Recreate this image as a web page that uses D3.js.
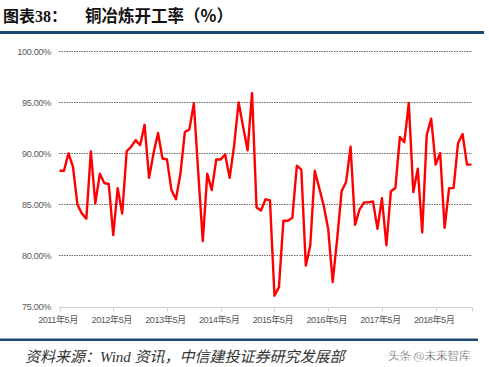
<!DOCTYPE html>
<html>
<head>
<meta charset="utf-8">
<script src="https://cdn.jsdelivr.net/npm/d3@7"></script>
<style>
  html, body { margin: 0; padding: 0; background: #fff; }
  svg { display: block; }
</style>
</head>
<body>
<svg id="chart" width="489" height="367"></svg>
<script>
// monthly copper smelter utilisation, 2011-05 .. 2019-01
const startMonth = new Date(2011, 4, 1);
const rates = [
  88.3, 88.3, 90.0, 88.7, 85.0, 84.1, 83.6, 90.2, 85.1, 88.0, 87.1, 87.0,
  82.0, 86.6, 84.1, 90.2, 90.65, 91.3, 90.8, 92.8, 87.6, 90.0, 92.0, 89.5,
  89.4, 86.4, 85.5, 88.0, 92.1, 92.35, 94.9, 88.0, 81.4, 88.0, 86.4, 89.4,
  89.4, 89.9, 87.6, 90.8, 95.0, 92.6, 90.3, 95.9, 84.7, 84.4, 85.5, 85.4,
  76.05, 76.9, 83.4, 83.4, 83.7, 88.8, 88.4, 79.0, 81.0, 88.3, 86.6, 84.9,
  82.6, 77.4, 81.6, 86.3, 87.2, 90.65, 83.0, 84.5, 85.2, 85.2, 85.3, 82.6,
  85.6, 81.0, 86.3, 86.6, 91.6, 91.1, 94.95, 86.2, 88.5, 82.25, 91.8, 93.4,
  88.9, 90.05, 82.7, 86.6, 86.6, 91.0, 91.9, 88.9, 88.9
];
const months = rates.map((_, i) => d3.timeMonth.offset(startMonth, i));
const yTicks = [75, 80, 85, 90, 95, 100];
const xTickIdx = [0, 12, 24, 36, 48, 60, 72, 84]; // every May
const title1 = "图表38：";
const title2 = "铜冶炼开工率（%）";
const source = "资料来源：Wind 资讯，中信建投证券研究发展部";
const watermark = "头条 @未来智库";

const svg = d3.select("#chart");
const data = months.map((m, i) => ({ m, v: rates[i] }));

const x = d3.scaleLinear().domain([0, rates.length - 1]).range([59.5, 471.5]);
const y = d3.scaleLinear().domain([75, 100]).range([306.5, 51.3]);

// title + rules
svg.append("text").attr("x", 3).attr("y", 22)
  .attr("font-family", "'Liberation Serif', 'Noto Sans CJK SC', serif").attr("font-weight", "bold")
  .attr("font-size", 16).attr("fill", "#111").text(title1);
svg.append("text").attr("x", 85).attr("y", 22)
  .attr("font-family", "'Noto Sans CJK SC', sans-serif").attr("font-weight", "bold")
  .attr("font-size", 16.5).attr("fill", "#111").text(title2);
svg.append("rect").attr("x", 0).attr("y", 31).attr("width", 484).attr("height", 3).attr("fill", "#1a4a73");
svg.append("rect").attr("x", 0).attr("y", 338.5).attr("width", 478).attr("height", 2.5).attr("fill", "#1a4a73");

// grid
const grid = svg.append("g");
grid.selectAll("line").data(yTicks.filter(t => t > 75)).join("line")
  .attr("x1", 59).attr("x2", 472)
  .attr("y1", d => Math.round(y(d)) + 0.5).attr("y2", d => Math.round(y(d)) + 0.5)
  .attr("stroke", "#6a6a6a").attr("stroke-width", 1).attr("stroke-dasharray", "1.5,1");

// y labels
svg.append("g").selectAll("text").data(yTicks).join("text")
  .attr("x", 51).attr("y", d => y(d) + 3.2)
  .attr("text-anchor", "end")
  .attr("font-family", "'Liberation Sans', Arial, sans-serif").attr("font-size", 9.2)
  .attr("fill", "#595959").attr("letter-spacing", -0.35)
  .text(d => d.toFixed(2) + "%");

// x axis
const xAxis = svg.append("g").attr("transform", `translate(0,${Math.round(y(75)) + 0.5})`);
xAxis.append("line").attr("x1", 59).attr("x2", 472).attr("stroke", "#d0d0d0");
xAxis.selectAll("line.tk").data([...xTickIdx, rates.length - 1]).join("line")
  .attr("class", "tk")
  .attr("x1", d => Math.round(x(d)) + 0.5).attr("x2", d => Math.round(x(d)) + 0.5)
  .attr("y1", 0).attr("y2", 4).attr("stroke", "#d0d0d0");
xAxis.selectAll("text").data(xTickIdx).join("text")
  .attr("x", d => x(d) - 1.5).attr("y", 15.5)
  .attr("text-anchor", "middle")
  .attr("font-family", "'Liberation Sans', 'Noto Sans CJK SC', sans-serif").attr("font-size", 9.2)
  .attr("fill", "#595959").attr("letter-spacing", -0.5)
  .text(d => `${months[d].getFullYear()}年${months[d].getMonth() + 1}月`);

// series
const line = d3.line().x((d, i) => x(i)).y(d => y(d.v));
svg.append("path").datum(data)
  .attr("d", line)
  .attr("fill", "none").attr("stroke", "#ff0000")
  .attr("stroke-width", 2.4).attr("stroke-linejoin", "round");

// footer
svg.append("text").attr("x", 25).attr("y", 362)
  .attr("font-family", "'Liberation Serif', 'Noto Sans CJK SC', serif").attr("font-style", "italic")
  .attr("font-size", 15).attr("fill", "#333")
  .text(source);
svg.append("text").attr("x", 388).attr("y", 360)
  .attr("font-family", "'Noto Sans CJK SC', sans-serif")
  .attr("font-size", 11.5).attr("fill", "#444")
  .attr("stroke", "#fff").attr("stroke-width", 0.3)
  .text(watermark);
</script>
</body>
</html>
